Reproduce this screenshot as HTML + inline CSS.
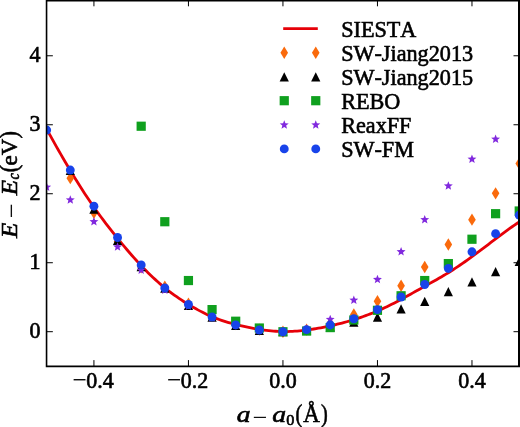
<!DOCTYPE html>
<html><head><meta charset="utf-8"><title>plot</title>
<style>html,body{margin:0;padding:0;background:#fff}svg{display:block}text{font-kerning:none;stroke:#000;stroke-width:0.6px}.tk text{stroke-width:0.62px}</style>
</head><body>
<svg width="520" height="427" viewBox="0 0 520 427">
<rect width="520" height="427" fill="#fff"/>
<defs><clipPath id="c"><rect x="46.55" y="0.5" width="473.45" height="365.8"/></clipPath></defs>
<g clip-path="url(#c)">
<path d="M46.67 128.99L49.03 133.32L51.40 137.61L53.76 141.87L56.12 146.08L58.48 150.26L60.85 154.40L63.21 158.50L65.57 162.55L67.94 166.55L70.30 170.51L72.66 174.43L75.02 178.29L77.39 182.10L79.75 185.85L82.11 189.56L84.47 193.20L86.84 196.79L89.20 200.32L91.56 203.79L93.93 207.19L96.29 210.53L98.65 213.81L101.01 217.04L103.38 220.21L105.74 223.33L108.10 226.41L110.47 229.44L112.83 232.44L115.19 235.40L117.55 238.33L119.92 241.23L122.28 244.11L124.64 246.95L127.01 249.75L129.37 252.52L131.73 255.24L134.09 257.92L136.46 260.55L138.82 263.14L141.18 265.66L143.54 268.14L145.91 270.55L148.27 272.91L150.63 275.22L153.00 277.46L155.36 279.65L157.72 281.78L160.08 283.85L162.45 285.86L164.81 287.81L167.17 289.70L169.54 291.53L171.90 293.31L174.26 295.04L176.62 296.71L178.99 298.34L181.35 299.92L183.71 301.46L186.08 302.96L188.44 304.42L190.80 305.84L193.16 307.22L195.53 308.57L197.89 309.87L200.25 311.13L202.61 312.35L204.98 313.52L207.34 314.64L209.70 315.71L212.07 316.73L214.43 317.70L216.79 318.62L219.15 319.49L221.52 320.31L223.88 321.10L226.24 321.84L228.61 322.55L230.97 323.22L233.33 323.87L235.69 324.48L238.06 325.08L240.42 325.64L242.78 326.18L245.15 326.70L247.51 327.20L249.87 327.67L252.23 328.12L254.60 328.54L256.96 328.95L259.32 329.33L261.68 329.69L264.05 330.02L266.41 330.33L268.77 330.61L271.14 330.85L273.50 331.07L275.86 331.24L278.22 331.38L280.59 331.48L282.95 331.54L285.31 331.56L287.68 331.53L290.04 331.46L292.40 331.35L294.76 331.21L297.13 331.03L299.49 330.82L301.85 330.58L304.22 330.31L306.58 330.02L308.94 329.70L311.30 329.36L313.67 329.00L316.03 328.62L318.39 328.21L320.75 327.79L323.12 327.34L325.48 326.87L327.84 326.38L330.21 325.87L332.57 325.34L334.93 324.79L337.29 324.22L339.66 323.63L342.02 323.02L344.38 322.39L346.75 321.73L349.11 321.06L351.47 320.36L353.83 319.64L356.20 318.90L358.56 318.13L360.92 317.34L363.29 316.52L365.65 315.67L368.01 314.80L370.37 313.89L372.74 312.96L375.10 311.99L377.46 310.99L379.82 309.96L382.19 308.89L384.55 307.79L386.91 306.66L389.28 305.51L391.64 304.33L394.00 303.13L396.36 301.90L398.73 300.66L401.09 299.40L403.45 298.12L405.82 296.83L408.18 295.53L410.54 294.22L412.90 292.90L415.27 291.58L417.63 290.26L419.99 288.93L422.36 287.61L424.72 286.29L427.08 284.97L429.44 283.65L431.81 282.34L434.17 281.01L436.53 279.68L438.89 278.33L441.26 276.97L443.62 275.58L445.98 274.17L448.35 272.72L450.71 271.25L453.07 269.74L455.43 268.20L457.80 266.63L460.16 265.03L462.52 263.40L464.89 261.75L467.25 260.08L469.61 258.39L471.97 256.67L474.34 254.93L476.70 253.18L479.06 251.41L481.43 249.63L483.79 247.85L486.15 246.05L488.51 244.26L490.88 242.46L493.24 240.67L495.60 238.88L497.96 237.10L500.33 235.34L502.69 233.58L505.05 231.85L507.42 230.13L509.78 228.43L512.14 226.76L514.50 225.12L516.87 223.51L519.23 221.93" fill="none" stroke="#e60008" stroke-width="2.8" stroke-linejoin="round"/>
<path d="M70.30 171.93L74.10 178.13L70.30 184.33L66.50 178.13Z" fill="#fa6a0c"/>
<path d="M93.93 206.53L97.73 212.73L93.93 218.93L90.13 212.73Z" fill="#fa6a0c"/>
<path d="M117.55 235.59L121.35 241.79L117.55 247.99L113.75 241.79Z" fill="#fa6a0c"/>
<path d="M141.18 261.19L144.98 267.39L141.18 273.59L137.38 267.39Z" fill="#fa6a0c"/>
<path d="M164.81 280.57L168.61 286.77L164.81 292.97L161.01 286.77Z" fill="#fa6a0c"/>
<path d="M188.44 297.52L192.24 303.72L188.44 309.92L184.64 303.72Z" fill="#fa6a0c"/>
<path d="M212.07 309.63L215.87 315.83L212.07 322.03L208.27 315.83Z" fill="#fa6a0c"/>
<path d="M235.69 317.94L239.49 324.14L235.69 330.34L231.89 324.14Z" fill="#fa6a0c"/>
<path d="M259.32 323.47L263.12 329.67L259.32 335.87L255.52 329.67Z" fill="#fa6a0c"/>
<path d="M282.95 325.55L286.75 331.75L282.95 337.95L279.15 331.75Z" fill="#fa6a0c"/>
<path d="M306.58 323.47L310.38 329.67L306.58 335.87L302.78 329.67Z" fill="#fa6a0c"/>
<path d="M330.21 317.25L334.01 323.45L330.21 329.65L326.41 323.45Z" fill="#fa6a0c"/>
<path d="M353.83 308.25L357.63 314.45L353.83 320.65L350.03 314.45Z" fill="#fa6a0c"/>
<path d="M377.46 295.10L381.26 301.30L377.46 307.50L373.66 301.30Z" fill="#fa6a0c"/>
<path d="M401.09 279.53L404.89 285.73L401.09 291.93L397.29 285.73Z" fill="#fa6a0c"/>
<path d="M424.72 260.78L428.52 266.98L424.72 273.18L420.92 266.98Z" fill="#fa6a0c"/>
<path d="M448.35 238.36L452.15 244.56L448.35 250.76L444.55 244.56Z" fill="#fa6a0c"/>
<path d="M471.97 213.45L475.77 219.65L471.97 225.85L468.17 219.65Z" fill="#fa6a0c"/>
<path d="M495.60 187.15L499.40 193.35L495.60 199.55L491.80 193.35Z" fill="#fa6a0c"/>
<path d="M519.23 157.39L523.03 163.59L519.23 169.79L515.43 163.59Z" fill="#fa6a0c"/>
<path d="M70.30 165.91L74.90 175.11L65.70 175.11Z" fill="#000000"/>
<path d="M93.93 204.67L98.53 213.87L89.33 213.87Z" fill="#000000"/>
<path d="M117.55 235.81L122.15 245.01L112.95 245.01Z" fill="#000000"/>
<path d="M141.18 262.10L145.78 271.30L136.58 271.30Z" fill="#000000"/>
<path d="M164.81 283.55L169.41 292.75L160.21 292.75Z" fill="#000000"/>
<path d="M188.44 300.85L193.04 310.05L183.84 310.05Z" fill="#000000"/>
<path d="M212.07 312.62L216.67 321.82L207.47 321.82Z" fill="#000000"/>
<path d="M235.69 320.92L240.29 330.12L231.09 330.12Z" fill="#000000"/>
<path d="M259.32 325.77L263.92 334.97L254.72 334.97Z" fill="#000000"/>
<path d="M282.95 327.15L287.55 336.35L278.35 336.35Z" fill="#000000"/>
<path d="M306.58 325.77L311.18 334.97L301.98 334.97Z" fill="#000000"/>
<path d="M330.21 322.31L334.81 331.51L325.61 331.51Z" fill="#000000"/>
<path d="M353.83 317.46L358.43 326.66L349.23 326.66Z" fill="#000000"/>
<path d="M377.46 312.62L382.06 321.82L372.86 321.82Z" fill="#000000"/>
<path d="M401.09 304.31L405.69 313.51L396.49 313.51Z" fill="#000000"/>
<path d="M424.72 296.70L429.32 305.90L420.12 305.90Z" fill="#000000"/>
<path d="M448.35 287.01L452.95 296.21L443.75 296.21Z" fill="#000000"/>
<path d="M471.97 277.33L476.57 286.53L467.37 286.53Z" fill="#000000"/>
<path d="M495.60 266.95L500.20 276.15L491.00 276.15Z" fill="#000000"/>
<path d="M519.23 256.91L523.83 266.11L514.63 266.11Z" fill="#000000"/>
<rect x="136.58" y="121.63" width="9.2" height="9.2" fill="#0fa01e"/>
<rect x="160.21" y="217.12" width="9.2" height="9.2" fill="#0fa01e"/>
<rect x="183.84" y="275.94" width="9.2" height="9.2" fill="#0fa01e"/>
<rect x="207.47" y="305.01" width="9.2" height="9.2" fill="#0fa01e"/>
<rect x="231.09" y="316.63" width="9.2" height="9.2" fill="#0fa01e"/>
<rect x="254.72" y="323.41" width="9.2" height="9.2" fill="#0fa01e"/>
<rect x="278.35" y="327.15" width="9.2" height="9.2" fill="#0fa01e"/>
<rect x="301.98" y="326.46" width="9.2" height="9.2" fill="#0fa01e"/>
<rect x="325.61" y="323.00" width="9.2" height="9.2" fill="#0fa01e"/>
<rect x="349.23" y="315.39" width="9.2" height="9.2" fill="#0fa01e"/>
<rect x="372.86" y="305.70" width="9.2" height="9.2" fill="#0fa01e"/>
<rect x="396.49" y="291.17" width="9.2" height="9.2" fill="#0fa01e"/>
<rect x="420.12" y="275.94" width="9.2" height="9.2" fill="#0fa01e"/>
<rect x="443.75" y="258.99" width="9.2" height="9.2" fill="#0fa01e"/>
<rect x="467.37" y="234.63" width="9.2" height="9.2" fill="#0fa01e"/>
<rect x="491.00" y="209.09" width="9.2" height="9.2" fill="#0fa01e"/>
<rect x="514.63" y="206.40" width="9.2" height="9.2" fill="#0fa01e"/>
<path d="M46.67 182.42L47.86 185.49L51.14 185.67L48.59 187.75L49.43 190.92L46.67 189.14L43.91 190.92L44.75 187.75L42.20 185.67L45.48 185.49Z" fill="#8129de"/>
<path d="M70.30 195.22L71.49 198.29L74.77 198.47L72.22 200.55L73.06 203.73L70.30 201.94L67.54 203.73L68.38 200.55L65.83 198.47L69.11 198.29Z" fill="#8129de"/>
<path d="M93.93 217.02L95.11 220.09L98.40 220.27L95.85 222.35L96.69 225.52L93.93 223.74L91.16 225.52L92.00 222.35L89.46 220.27L92.74 220.09Z" fill="#8129de"/>
<path d="M117.55 242.28L118.74 245.34L122.02 245.53L119.48 247.60L120.32 250.78L117.55 249.00L114.79 250.78L115.63 247.60L113.08 245.53L116.37 245.34Z" fill="#8129de"/>
<path d="M141.18 265.46L142.37 268.53L145.65 268.71L143.10 270.79L143.94 273.96L141.18 272.18L138.42 273.96L139.26 270.79L136.71 268.71L139.99 268.53Z" fill="#8129de"/>
<path d="M164.81 285.53L166.00 288.59L169.28 288.78L166.73 290.85L167.57 294.03L164.81 292.25L162.05 294.03L162.89 290.85L160.34 288.78L163.62 288.59Z" fill="#8129de"/>
<path d="M188.44 301.45L189.63 304.51L192.91 304.69L190.36 306.77L191.20 309.95L188.44 308.17L185.68 309.95L186.52 306.77L183.97 304.69L187.25 304.51Z" fill="#8129de"/>
<path d="M212.07 313.21L213.25 316.27L216.54 316.46L213.99 318.53L214.83 321.71L212.07 319.93L209.30 321.71L210.14 318.53L207.60 316.46L210.88 316.27Z" fill="#8129de"/>
<path d="M235.69 320.82L236.88 323.89L240.16 324.07L237.62 326.15L238.46 329.32L235.69 327.54L232.93 329.32L233.77 326.15L231.22 324.07L234.51 323.89Z" fill="#8129de"/>
<path d="M259.32 325.67L260.51 328.73L263.79 328.91L261.24 330.99L262.08 334.17L259.32 332.39L256.56 334.17L257.40 330.99L254.85 328.91L258.13 328.73Z" fill="#8129de"/>
<path d="M282.95 327.05L284.14 330.11L287.42 330.30L284.87 332.37L285.71 335.55L282.95 333.77L280.19 335.55L281.03 332.37L278.48 330.30L281.76 330.11Z" fill="#8129de"/>
<path d="M306.58 324.28L307.77 327.35L311.05 327.53L308.50 329.61L309.34 332.78L306.58 331.00L303.82 332.78L304.66 329.61L302.11 327.53L305.39 327.35Z" fill="#8129de"/>
<path d="M330.21 314.73L331.39 317.80L334.68 317.98L332.13 320.06L332.97 323.23L330.21 321.45L327.44 323.23L328.28 320.06L325.74 317.98L329.02 317.80Z" fill="#8129de"/>
<path d="M353.83 295.43L355.02 298.49L358.30 298.67L355.76 300.75L356.60 303.93L353.83 302.15L351.07 303.93L351.91 300.75L349.36 298.67L352.65 298.49Z" fill="#8129de"/>
<path d="M377.46 274.80L378.65 277.87L381.93 278.05L379.38 280.13L380.22 283.31L377.46 281.53L374.70 283.31L375.54 280.13L372.99 278.05L376.27 277.87Z" fill="#8129de"/>
<path d="M401.09 247.05L402.28 250.12L405.56 250.30L403.01 252.38L403.85 255.56L401.09 253.78L398.33 255.56L399.17 252.38L396.62 250.30L399.90 250.12Z" fill="#8129de"/>
<path d="M424.72 214.95L425.91 218.01L429.19 218.19L426.64 220.27L427.48 223.45L424.72 221.67L421.96 223.45L422.80 220.27L420.25 218.19L423.53 218.01Z" fill="#8129de"/>
<path d="M448.35 181.18L449.53 184.24L452.82 184.42L450.27 186.50L451.11 189.68L448.35 187.90L445.58 189.68L446.42 186.50L443.88 184.42L447.16 184.24Z" fill="#8129de"/>
<path d="M471.97 154.53L473.16 157.60L476.44 157.78L473.90 159.86L474.74 163.04L471.97 161.26L469.21 163.04L470.05 159.86L467.50 157.78L470.79 157.60Z" fill="#8129de"/>
<path d="M495.60 134.54L496.79 137.60L500.07 137.78L497.52 139.86L498.36 143.04L495.60 141.26L492.84 143.04L493.68 139.86L491.13 137.78L494.41 137.60Z" fill="#8129de"/>
<circle cx="46.67" cy="130.03" r="4.45" fill="#1843ea"/>
<circle cx="70.30" cy="170.03" r="4.45" fill="#1843ea"/>
<circle cx="93.93" cy="206.22" r="4.45" fill="#1843ea"/>
<circle cx="117.55" cy="237.50" r="4.45" fill="#1843ea"/>
<circle cx="141.18" cy="264.97" r="4.45" fill="#1843ea"/>
<circle cx="164.81" cy="288.02" r="4.45" fill="#1843ea"/>
<circle cx="188.44" cy="304.49" r="4.45" fill="#1843ea"/>
<circle cx="212.07" cy="317.01" r="4.45" fill="#1843ea"/>
<circle cx="235.69" cy="324.97" r="4.45" fill="#1843ea"/>
<circle cx="259.32" cy="330.02" r="4.45" fill="#1843ea"/>
<circle cx="282.95" cy="331.75" r="4.45" fill="#1843ea"/>
<circle cx="306.58" cy="329.67" r="4.45" fill="#1843ea"/>
<circle cx="330.21" cy="324.97" r="4.45" fill="#1843ea"/>
<circle cx="353.83" cy="318.74" r="4.45" fill="#1843ea"/>
<circle cx="377.46" cy="309.61" r="4.45" fill="#1843ea"/>
<circle cx="401.09" cy="297.01" r="4.45" fill="#1843ea"/>
<circle cx="424.72" cy="284.49" r="4.45" fill="#1843ea"/>
<circle cx="448.35" cy="268.43" r="4.45" fill="#1843ea"/>
<circle cx="471.97" cy="251.82" r="4.45" fill="#1843ea"/>
<circle cx="495.60" cy="233.69" r="4.45" fill="#1843ea"/>
<circle cx="519.23" cy="215.15" r="4.45" fill="#1843ea"/>
</g>
<path d="M45.75 0H520V1.45H45.75ZM45.75 365.45H520V367.15000000000003H45.75ZM45.75 0H47.349999999999994V367.15000000000003H45.75ZM518 0H520V367.15000000000003H518Z" fill="#000"/>
<path d="M93.93 366.3v-6.2M93.93 0v6.3M188.44 366.3v-6.2M188.44 0v6.3M282.95 366.3v-6.2M282.95 0v6.3M377.46 366.3v-6.2M377.46 0v6.3M471.97 366.3v-6.2M471.97 0v6.3M46.55 331.70h6.3M520 331.70h-6.5M46.55 262.72h6.3M520 262.72h-6.5M46.55 193.74h6.3M520 193.74h-6.5M46.55 124.76h6.3M520 124.76h-6.5M46.55 55.78h6.3M520 55.78h-6.5" fill="none" stroke="#000" stroke-width="1"/>
<g font-family="'Liberation Serif', serif" font-size="22" fill="#000" class="tk">
<text transform="translate(72.38 388.1) scale(1 1.085)"><tspan font-size="25.4" dy="0.85" style="stroke-width:0.05px">−</tspan><tspan dy="-0.85" dx="-0.35">0.4</tspan></text>
<text transform="translate(166.89 388.1) scale(1 1.085)"><tspan font-size="25.4" dy="0.85" style="stroke-width:0.05px">−</tspan><tspan dy="-0.85" dx="-0.35">0.2</tspan></text>
<text transform="translate(282.95 388.1) scale(1 1.085)" text-anchor="middle">0.0</text>
<text transform="translate(377.46 388.1) scale(1 1.085)" text-anchor="middle">0.2</text>
<text transform="translate(471.97 388.1) scale(1 1.085)" text-anchor="middle">0.4</text>
<text transform="translate(40.6 337.70) scale(1 1.09)" text-anchor="end">0</text>
<text transform="translate(40.6 268.72) scale(1 1.09)" text-anchor="end">1</text>
<text transform="translate(40.6 199.74) scale(1 1.09)" text-anchor="end">2</text>
<text transform="translate(40.6 130.76) scale(1 1.09)" text-anchor="end">3</text>
<text transform="translate(40.6 61.78) scale(1 1.09)" text-anchor="end">4</text>
</g>
<g font-family="'Liberation Serif', serif" font-size="22.2" fill="#000">
<text transform="translate(341.2 36.90) scale(1 1.06)">SIESTA</text>
<text transform="translate(341.2 61.00) scale(1 1.06)">SW-Jiang2013</text>
<text transform="translate(341.2 85.10) scale(1 1.06)">SW-Jiang2015</text>
<text transform="translate(341.2 109.00) scale(1 1.06)">REBO</text>
<text transform="translate(341.2 133.30) scale(1 1.06)">ReaxFF</text>
<text transform="translate(341.2 157.20) scale(1 1.06)">SW-FM</text>
</g>
<path d="M283.2 28.6H317.8" stroke="#e60008" stroke-width="2.6"/>
<path d="M284.25 46.50L288.05 52.70L284.25 58.90L280.45 52.70Z" fill="#fa6a0c"/>
<path d="M315.75 46.50L319.55 52.70L315.75 58.90L311.95 52.70Z" fill="#fa6a0c"/>
<path d="M284.25 72.20L288.85 81.40L279.65 81.40Z" fill="#000000"/>
<path d="M315.75 72.20L320.35 81.40L311.15 81.40Z" fill="#000000"/>
<rect x="279.65" y="96.10" width="9.2" height="9.2" fill="#0fa01e"/>
<rect x="311.15" y="96.10" width="9.2" height="9.2" fill="#0fa01e"/>
<path d="M284.25 120.30L285.44 123.36L288.72 123.55L286.17 125.62L287.01 128.80L284.25 127.02L281.49 128.80L282.33 125.62L279.78 123.55L283.06 123.36Z" fill="#8129de"/>
<path d="M315.75 120.30L316.94 123.36L320.22 123.55L317.67 125.62L318.51 128.80L315.75 127.02L312.99 128.80L313.83 125.62L311.28 123.55L314.56 123.36Z" fill="#8129de"/>
<circle cx="284.25" cy="148.90" r="4.45" fill="#1843ea"/>
<circle cx="315.75" cy="148.90" r="4.45" fill="#1843ea"/>
<g font-family="'Liberation Serif', serif" fill="#000">
<text transform="translate(236.65 421.70) scale(1.195 1)" font-size="23" font-style="italic">a</text>
<text transform="translate(252.82 424.70) scale(1.120 1)" font-size="23" style="stroke-width:0.15px">−</text>
<text transform="translate(272.35 421.70) scale(1.205 1)" font-size="23" font-style="italic">a</text>
<text transform="translate(286.34 424.90) scale(1.048 1)" font-size="15.5">0</text>
<text transform="translate(295.38 421.70) scale(0.829 1)" font-size="24.5">(</text>
<text transform="translate(303.22 421.70) scale(0.996 1.11)" font-size="23">Å</text>
<text transform="translate(320.89 421.70) scale(0.829 1)" font-size="24.5">)</text>
<g transform="translate(16.75 238.6) rotate(-90)">
<text transform="translate(0.68 0.00) scale(1.094 1)" font-size="23" font-style="italic">E</text>
<text transform="translate(20.30 2.50) scale(1.147 1)" font-size="23" style="stroke-width:0.15px">−</text>
<text transform="translate(43.28 0.00) scale(1.094 1)" font-size="23" font-style="italic">E</text>
<text transform="translate(58.98 2.20) scale(0.886 1)" font-size="16" font-style="italic">c</text>
<text transform="translate(66.32 0.00) scale(0.902 1)" font-size="24.5">(</text>
<text transform="translate(73.18 0.00) scale(0.998 1)" font-size="23">eV</text>
<text transform="translate(100.15 0.00) scale(0.902 1)" font-size="24.5">)</text>
</g></g>
</svg>
</body></html>
